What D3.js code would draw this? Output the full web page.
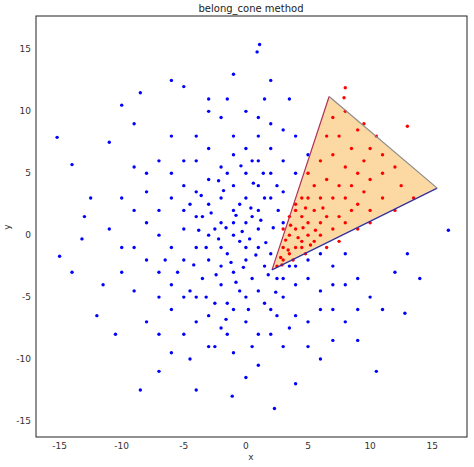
<!DOCTYPE html>
<html><head><meta charset="utf-8">
<script src="https://cdn.jsdelivr.net/npm/d3@7"></script>
<style>body{margin:0;background:#fff;font-family:"DejaVu Sans",sans-serif;}</style>
</head><body><div id="chart"></div>
<script>
// points (a hand-picked subset of the cloud)
var blue_points = [
[-15.2,7.9],[-14,5.7],[-15,-1.7],[16.3,0.4],[1.1,15.4],[0.9,14.8],[2.3,-14],[-1.1,-13],[-8.5,11.5],[-10,10.5],
[-13,1.5],[-12,-6.5],[-8.5,-12.5],[10.5,-11],[12.8,-6.3],[-13.2,-0.3],[-12.5,3],[-11,7.5],[-9,9],[-6,12.5],
[-5,12],[-3,11],[-1,13],[2,12.5],[3.5,11],[-11.5,-4],[-10.5,-8],[-7,-11],[-4,-12.5],[0,-11.5],
[4,-12],[6,-10],[9,-8.5],[11,-6],[12,-3],[13,-1.5],[14,-3.5],[-14,-3],[-10,-1],[-9,2],
[-8,5],[-7,-3],[-6,-6],[-5,-8],[-3,-9],[-1,-9.5],[1,-8],[3,-9],[5,-7],[7,-6],
[8,-4],[9,-3.5],[10,-5],[-8,-7],[-9,-4.5],[-7,0],[-6,3],[-5,6],[-4,8],[-2,9.5],
[0,10],[2,9],[4,8],[5,6.5],[-6,8],[-7,6],[-8,-2],[-4,-5],[-3,-6.5],[-2,-4],
[-1,-6],[0,-5],[1,-4.5],[2,-6],[3,-5],[4,-4],[5,-3.5],[6,-4.5],[7,-2.5],[8,-1.5],
[-5,-2],[-4,-1],[-3,0],[-2,1],[-1,2],[0,3],[1,4],[2,5],[3,6],[4,5],
[-5,2],[-4,3.5],[-3,4.5],[-2,5.5],[-1,6.5],[0,7],[1,8],[2,7],[3,3.5],[3,-3.5],
[-6,-1],[-5,0.5],[-4,1.5],[-3,2.5],[-2,3],[-1,4],[0,5],[1,6],[2,3],[3,1],
[-3,-2],[-2,-2.5],[-1,-3],[0,-2],[1,-1],[2,-1.5],[-2,-1],[-1,0],[0,1],[1,2],
[-1,1],[0,-1],[1,0.5],[-0.5,-0.5],[0.5,1.5],[-1.5,-1.5],[0.5,-3.5],[1.5,-2.5],[-0.5,2.5],[1.5,3],
[-6,-4],[-7,-5],[-5,-5],[-4,-7],[-2,-7.5],[0,-7],[2,-8],[4,-6.5],[6,-6],[8,-7],
[-7,2],[-8,1],[-9,-1],[-6,5],[-5,4],[-4,6],[-3,7],[-1,8],[1,9.5],[3,8.5],
[-2.5,-5.5],[-1.5,-8],[0.5,-9],[2.5,-3.5],[3.5,-2.5],[4,-2.5],[5,-2],[6,-1.5],[7,-4],[9,-6],
[-3.5,-3.5],[-4.5,-4.5],[-5.5,-3],[-6.5,-2],[-2.5,0.5],[-3.5,1.5],[-4.5,2.5],[-1.5,5],[0.5,6],[2.5,4],
[-0.5,-4.5],[-1.5,-5.5],[1.5,-5.5],[2.5,-6.5],[3.5,-7.5],[-2.5,-9],[-4.5,-10],[1,-10.5],[5,-9],[7,-8.5],
[-8,3.5],[-9,5.5],[-10,3],[-10,-3],[-11,0.5],[-7,-8],[-6,-9.5],[-3,10],[-1.5,11],[1.5,11],
[-0.3,0.3],[0.3,-0.3],[-0.8,1.6],[0.8,-1.6],[-1.6,0.6],[1.6,-0.6],[-2.2,-0.3],[2.2,0.6],[-0.2,-2.6],[0.4,2.2],
[-1.2,-2.2],[1.2,1.2],[-2.8,1.8],[2.6,2],[-1.8,3.6],[0.6,4.2],[-3.2,-1],[1.8,-3.2],[-0.8,-3.8],[-2.4,-3.2],
[-3.8,0.4],[-4.2,-2.4],[-3.6,3.2],[-2.2,4.4],[-0.4,5.6],[1.4,5],[2.4,-4.6],[0.2,-6],[-1.6,-6.8],[-3.2,-5]
];
var red_points = [
[2.5,-2.5],[3,-2],[3.5,-1.5],[3,-1],[4,-1],[3.5,0],[4,0.5],[5,0],[4.5,-0.5],[5.5,-0.5],
[6,0],[5,1],[4.5,1.5],[5.5,2],[6,1],[7,0.5],[6.5,1.5],[7.5,1.5],[8,1],[8.5,2],
[5,3],[6,3],[7,3],[8,3],[9,2.5],[10,2],[5.5,4],[6.5,4.5],[7.5,4],[8.5,4],
[9.5,3.5],[11,3],[6,6],[7,6.5],[8,5.5],[9,5],[10,4.5],[6.5,8],[7.5,8],[8.5,7],
[9.5,6],[11,5],[12.5,4],[7,9.5],[8,10],[9,8.5],[10,7],[8,11.9],[7.9,11.1],[13,8.8],
[3,0.5],[4,2],[3.5,1.5],[4.5,3],[5,5],[2.8,-1.8],[3.8,-2],[4.8,-1.5],[6.5,-1],[7.5,-0.5],
[9,0.5],[10,1],[12,2],[13.5,3],[11,6.5],[12,5.5],[9.5,9],[10.5,8],[4,2.5],[4.5,-1],
[3.2,-0.4],[4.2,-0.2],[3.6,0.8],[4.6,0.6],[5.2,-0.8],[5.6,0.4],[4.8,2.2],[6.2,2.2],[3.4,-1.2],[2.9,-2.4]
];
var x_ticks = [-15,-10,-5,0,5,10,15];
var y_ticks = [-15,-10,-5,0,5,10,15];
var cone = [[2.1,-2.8],[6.7,11.2],[15.4,3.8]];

var svg = d3.select("#chart").append("svg").attr("width",474).attr("height",467);
var x = d3.scaleLinear().domain([-16.9,17.8]).range([36,467]);
var y = d3.scaleLinear().domain([-16.3,17.7]).range([437,16]);

svg.selectAll(".xt").data(x_ticks).enter().append("text")
    .attr("x",d=>x(d)).attr("y",449).attr("text-anchor","middle")
    .attr("font-size",9).attr("fill","#333").text(d=>d);
svg.selectAll(".yt").data(y_ticks).enter().append("text")
    .attr("x",31).attr("y",d=>y(d)+3).attr("text-anchor","end")
    .attr("font-size",9).attr("fill","#333").text(d=>d);

svg.append("path").attr("d",d3.line().x(d=>x(d[0])).y(d=>y(d[1]))(cone)+"Z")
    .attr("fill","#fcd9a3").attr("stroke","none");

svg.selectAll(".b").data(blue_points).enter().append("circle")
    .attr("cx",d=>x(d[0])).attr("cy",d=>y(d[1])).attr("r",1.7).attr("fill","#0000ff");
svg.selectAll(".r").data(red_points).enter().append("circle")
    .attr("cx",d=>x(d[0])).attr("cy",d=>y(d[1])).attr("r",1.7).attr("fill","#ff0000");

var edge = (a,b,c) => svg.append("line").attr("x1",x(a[0])).attr("y1",y(a[1]))
    .attr("x2",x(b[0])).attr("y2",y(b[1])).attr("stroke",c).attr("stroke-width",1.2);
edge(cone[0],cone[1],"#b0305a");
edge(cone[0],cone[2],"#3030a0");
edge(cone[1],cone[2],"#8c8c8c");

svg.append("rect").attr("x",36).attr("y",16).attr("width",431).attr("height",421)
    .attr("fill","none").attr("stroke","#222").attr("stroke-width",1);
svg.append("text").attr("x",251).attr("y",12).attr("text-anchor","middle")
    .attr("font-size",10).attr("fill","#222").text("belong_cone method");
svg.append("text").attr("x",251).attr("y",460).attr("text-anchor","middle")
    .attr("font-size",9).attr("fill","#333").text("x");
svg.append("text").attr("transform","translate(10,227) rotate(-90)").attr("text-anchor","middle")
    .attr("font-size",9).attr("fill","#333").text("y");
</script></body></html>
